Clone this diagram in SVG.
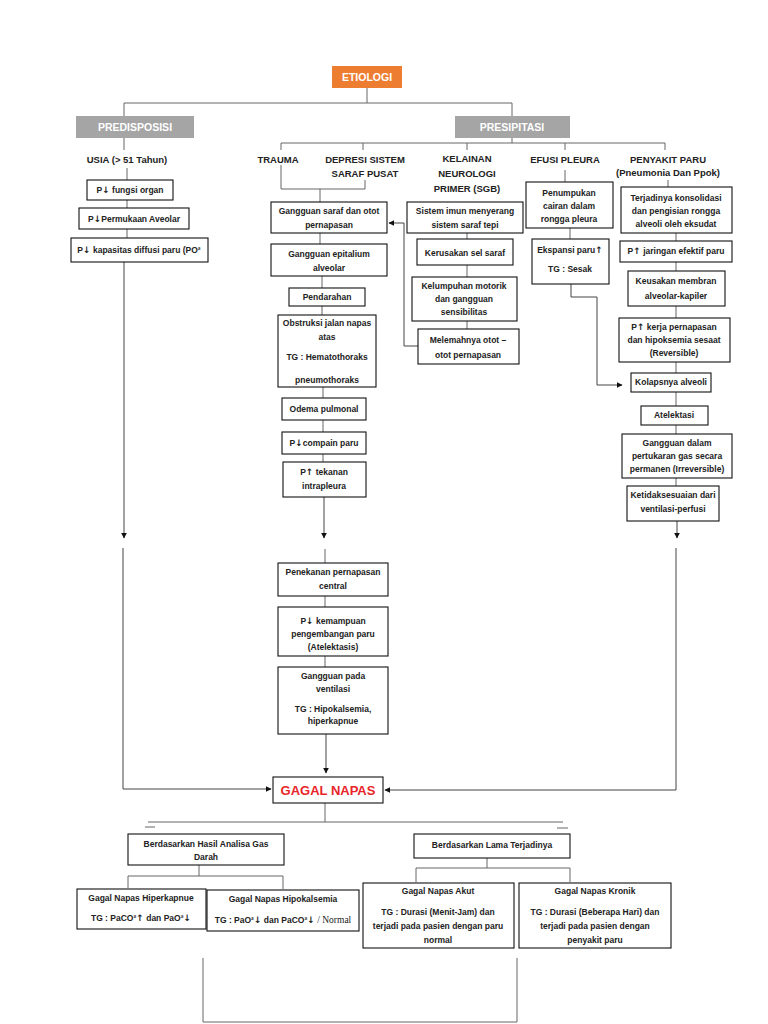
<svg xmlns="http://www.w3.org/2000/svg" width="768" height="1024" viewBox="0 0 768 1024">
<defs>
<marker id="arr" viewBox="0 0 10 10" refX="9" refY="5" markerWidth="6" markerHeight="6" markerUnits="userSpaceOnUse" orient="auto">
<path d="M0,0 L10,5 L0,10 z" fill="#111"/>
</marker>
<style>
.b{fill:#fff;stroke:#111;stroke-width:1.1}
.t{font-family:"Liberation Sans",Arial,sans-serif;font-size:8.5px;font-weight:bold;text-anchor:middle;fill:#222}
.h{font-family:"Liberation Sans",Arial,sans-serif;font-size:9.5px;font-weight:bold;text-anchor:middle;fill:#222}
.w{font-family:"Liberation Sans",Arial,sans-serif;font-size:10.5px;font-weight:bold;text-anchor:middle;fill:#fff}
.c{fill:none;stroke:#666;stroke-width:1}
.a{fill:none;stroke:#444;stroke-width:1;marker-end:url(#arr)}
.s{font-family:"Liberation Serif","Times New Roman",serif;font-weight:normal;font-size:9.5px}
.ar{font-family:"DejaVu Sans",sans-serif;font-size:9px;font-weight:bold}
</style>
</defs>
<rect width="768" height="1024" fill="#fff"/>

<g id="connectors">
<path class="c" d="M367,88V103M124,103H512M124,103V116M512,103V116"/>
<path class="c" d="M124,138V150M127,168V180M127,200V208M127,229V238"/>
<path class="a" d="M124,262V538"/>
<path class="a" d="M123,548V789H271"/>
<path class="c" d="M512,138V143M281,143H665M281,143V150M363,143V150M467,143V150M565,143V150M665,143V150"/>
<path class="c" d="M281,165V189H365V180M320,189V202"/>
<path class="c" d="M320,233V244M322,276V288M322,306V315M323,387V398M323,420V432M323,454V462"/>
<path class="a" d="M324,497V538"/>
<path class="c" d="M325,549V563M325,596V607M325,656V667"/>
<path class="a" d="M326,734V773"/>
<path class="c" d="M467,233V239M467,265V277M467,321V329"/>
<path class="a" d="M418,346H404V223H389"/>
<path class="c" d="M565,170V182M570,228V239M668,180V187"/>
<path class="a" d="M571,284V297H597V385H622"/>
<path class="c" d="M676,233V241M676,262V271M676,306V318M676,362V373M676,392V406M676,425V434M676,478V486"/>
<path class="a" d="M677,521V538"/>
<path class="a" d="M676,548V790H385"/>
<path class="c" d="M325,803V822M148,822H563M145,827H155M557,828H568"/>
<path class="c" d="M199,865V876M128,876H283M128,876V888M283,876V889"/>
<path class="c" d="M487,858V868M416,868H570M416,868V882M570,868V882"/>
<path class="c" stroke="#888" d="M203,958V1022H517V958"/>
</g>

<g id="etiologi"><rect x="332" y="66" width="70" height="22" fill="#ED7D31"/><text class="w" x="367" y="81">ETIOLOGI</text></g>
<g id="predisposisi"><rect x="76" y="116" width="118" height="22" fill="#A5A5A5"/><text class="w" x="135" y="131">PREDISPOSISI</text></g>
<g id="presipitasi"><rect x="455" y="116" width="115" height="22" fill="#A5A5A5"/><text class="w" x="512" y="131">PRESIPITASI</text></g>

<g id="usia"><text class="h" x="127" y="163">USIA (&gt; 51 Tahun)</text></g>
<g id="fungsi"><rect class="b" x="87" y="180" width="86" height="20"/><text class="t" x="130" y="193">P<tspan class="ar">↓</tspan> fungsi organ</text></g>
<g id="permukaan"><rect class="b" x="79" y="208" width="110" height="21"/><text class="t" x="134" y="222">P<tspan class="ar">↓</tspan>Permukaan Aveolar</text></g>
<g id="kapasitas"><rect class="b" x="71" y="238" width="137" height="24"/><text class="t" x="139" y="253">P<tspan class="ar">↓</tspan> kapasitas diffusi paru (PO²</text></g>

<g id="trauma"><text class="h" x="278" y="163">TRAUMA</text></g>
<g id="depresi"><text class="h" x="365" y="163">DEPRESI SISTEM</text><text class="h" x="365" y="177">SARAF PUSAT</text></g>
<g id="kelainan"><text class="h" x="467" y="162">KELAINAN</text><text class="h" x="467" y="177">NEUROLOGI</text><text class="h" x="467" y="192">PRIMER (SGB)</text></g>
<g id="efusi"><text class="h" x="565" y="163">EFUSI PLEURA</text></g>
<g id="penyakit"><text class="h" x="668" y="163">PENYAKIT PARU</text><text class="h" x="668" y="176">(Pneumonia Dan Ppok)</text></g>

<g id="n1"><rect class="b" x="271" y="202" width="116" height="31"/><text class="t" x="329" y="214">Gangguan saraf dan otot</text><text class="t" x="329" y="228">pernapasan</text></g>
<g id="n2"><rect class="b" x="271" y="244" width="116" height="32"/><text class="t" x="329" y="257">Gangguan epitalium</text><text class="t" x="329" y="271">alveolar</text></g>
<g id="n3"><rect class="b" x="289" y="288" width="76" height="18"/><text class="t" x="327" y="300">Pendarahan</text></g>
<g id="n4"><rect class="b" x="278" y="315" width="98" height="72"/><text class="t" x="327" y="326">Obstruksi jalan napas</text><text class="t" x="327" y="340">atas</text><text class="t" x="327" y="360">TG : Hematothoraks</text><text class="t" x="327" y="383">pneumothoraks</text></g>
<g id="n5"><rect class="b" x="282" y="398" width="84" height="22"/><text class="t" x="324" y="412">Odema pulmonal</text></g>
<g id="n6"><rect class="b" x="282" y="432" width="84" height="22"/><text class="t" x="324" y="446">P<tspan class="ar">↓</tspan>compain paru</text></g>
<g id="n7"><rect class="b" x="283" y="462" width="83" height="35"/><text class="t" x="324" y="475">P<tspan class="ar">↑</tspan> tekanan</text><text class="t" x="324" y="489">intrapleura</text></g>
<g id="n8"><rect class="b" x="278" y="563" width="110" height="33"/><text class="t" x="333" y="575">Penekanan pernapasan</text><text class="t" x="333" y="589">central</text></g>
<g id="n9"><rect class="b" x="278" y="607" width="110" height="49"/><text class="t" x="333" y="624">P<tspan class="ar">↓</tspan> kemampuan</text><text class="t" x="333" y="637">pengembangan paru</text><text class="t" x="333" y="650">(Atelektasis)</text></g>
<g id="n10"><rect class="b" x="278" y="667" width="110" height="67"/><text class="t" x="333" y="679">Gangguan pada</text><text class="t" x="333" y="692">ventilasi</text><text class="t" x="333" y="712">TG : Hipokalsemia,</text><text class="t" x="333" y="724">hiperkapnue</text></g>

<g id="k1"><rect class="b" x="407" y="202" width="116" height="31"/><text class="t" x="465" y="214">Sistem imun menyerang</text><text class="t" x="465" y="228">sistem saraf tepi</text></g>
<g id="k2"><rect class="b" x="417" y="239" width="96" height="26"/><text class="t" x="465" y="256">Kerusakan sel saraf</text></g>
<g id="k3"><rect class="b" x="412" y="277" width="105" height="44"/><text class="t" x="464" y="289">Kelumpuhan motorik</text><text class="t" x="464" y="302">dan gangguan</text><text class="t" x="464" y="315">sensibilitas</text></g>
<g id="k4"><rect class="b" x="418" y="329" width="101" height="35"/><text class="t" x="468" y="343">Melemahnya otot –</text><text class="t" x="468" y="358">otot pernapasan</text></g>

<g id="e1"><rect class="b" x="526" y="182" width="87" height="46"/><text class="t" x="569" y="196">Penumpukan</text><text class="t" x="569" y="209">cairan dalam</text><text class="t" x="569" y="222">rongga pleura</text></g>
<g id="e2"><rect class="b" x="532" y="239" width="77" height="45"/><text class="t" x="570" y="253">Ekspansi paru<tspan class="ar">↑</tspan></text><text class="t" x="570" y="272">TG : Sesak</text></g>

<g id="p1"><rect class="b" x="621" y="187" width="111" height="46"/><text class="t" x="676" y="201">Terjadinya konsolidasi</text><text class="t" x="676" y="214">dan pengisian rongga</text><text class="t" x="676" y="227">alveoli oleh eksudat</text></g>
<g id="p2"><rect class="b" x="620" y="241" width="112" height="21"/><text class="t" x="676" y="254">P<tspan class="ar">↑</tspan> jaringan efektif paru</text></g>
<g id="p3"><rect class="b" x="628" y="271" width="97" height="35"/><text class="t" x="676" y="284">Keusakan membran</text><text class="t" x="676" y="299">alveolar-kapiler</text></g>
<g id="p4"><rect class="b" x="619" y="318" width="111" height="44"/><text class="t" x="674" y="330">P<tspan class="ar">↑</tspan> kerja pernapasan</text><text class="t" x="674" y="343">dan hipoksemia sesaat</text><text class="t" x="674" y="356">(Reversible)</text></g>
<g id="p5"><rect class="b" x="631" y="373" width="80" height="19"/><text class="t" x="671" y="385">Kolapsnya alveoli</text></g>
<g id="p6"><rect class="b" x="641" y="406" width="67" height="19"/><text class="t" x="674" y="418">Atelektasi</text></g>
<g id="p7"><rect class="b" x="622" y="434" width="110" height="44"/><text class="t" x="677" y="446">Gangguan dalam</text><text class="t" x="677" y="459">pertukaran gas secara</text><text class="t" x="677" y="472">permanen (Irreversible)</text></g>
<g id="p8"><rect class="b" x="627" y="486" width="92" height="35"/><text class="t" x="673" y="498">Ketidaksesuaian dari</text><text class="t" x="673" y="512">ventilasi-perfusi</text></g>

<g id="gagal"><rect class="b" x="273" y="777" width="110" height="26"/><text x="328" y="795" font-family="Liberation Sans,Arial,sans-serif" font-size="13" font-weight="bold" text-anchor="middle" fill="#E8262A">GAGAL NAPAS</text></g>

<g id="analisa"><rect class="b" x="128" y="834" width="156" height="31"/><text class="t" x="206" y="847">Berdasarkan Hasil Analisa Gas</text><text class="t" x="206" y="860">Darah</text></g>
<g id="hiperkapnue"><rect class="b" x="77" y="889" width="129" height="40"/><text class="t" x="141" y="901">Gagal Napas Hiperkapnue</text><text class="t" x="141" y="921">TG : PaCO²<tspan class="ar">↑</tspan> dan PaO²<tspan class="ar">↓</tspan></text></g>
<g id="hipokalsemia"><rect class="b" x="207" y="890" width="152" height="41"/><text class="t" x="283" y="902">Gagal Napas Hipokalsemia</text><text class="t" x="283" y="923">TG : PaO²<tspan class="ar">↓</tspan> dan PaCO²<tspan class="ar">↓</tspan> <tspan class="s">/ Normal</tspan></text></g>
<g id="lama"><rect class="b" x="414" y="834" width="156" height="24"/><text class="t" x="492" y="848">Berdasarkan Lama Terjadinya</text></g>
<g id="akut"><rect class="b" x="363" y="883" width="151" height="65"/><text class="t" x="438" y="894">Gagal Napas Akut</text><text class="t" x="438" y="915">TG : Durasi (Menit-Jam) dan</text><text class="t" x="438" y="929">terjadi pada pasien dengan paru</text><text class="t" x="438" y="943">normal</text></g>
<g id="kronik"><rect class="b" x="519" y="883" width="152" height="65"/><text class="t" x="595" y="894">Gagal Napas Kronik</text><text class="t" x="595" y="915">TG : Durasi (Beberapa Hari) dan</text><text class="t" x="595" y="929">terjadi pada pasien dengan</text><text class="t" x="595" y="943">penyakit paru</text></g>
</svg>
